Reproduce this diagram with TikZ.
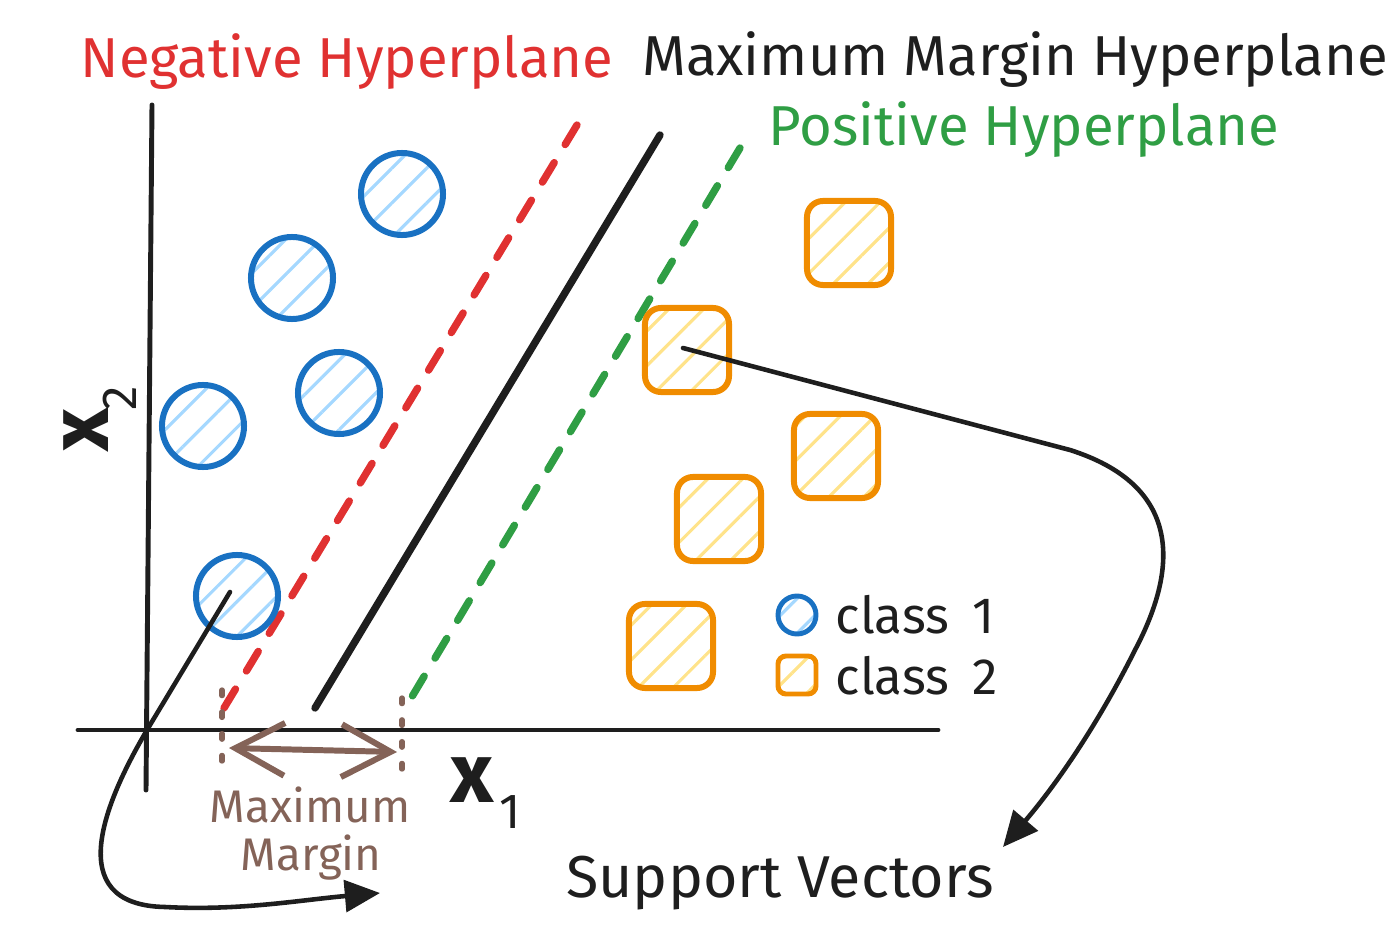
\documentclass[tikz,border=0pt]{standalone}
\usepackage{fontspec}
\setmainfont{Fira Sans}
\usetikzlibrary{arrows.meta,patterns.meta}
\definecolor{nred}{HTML}{E03131}
\definecolor{pgreen}{HTML}{2F9E44}
\definecolor{cblue}{HTML}{1971C2}
\definecolor{hblue}{HTML}{A5D8FF}
\definecolor{sorange}{HTML}{F08C00}
\definecolor{hyellow}{HTML}{FFE38A}
\definecolor{mbrown}{HTML}{846358}
\definecolor{ink}{HTML}{1E1E1E}
\begin{document}
\begin{tikzpicture}[x=0.01cm,y=-0.01cm,
  classone/.style={circle,draw=cblue,line width=1.7pt,minimum size=0.82cm,inner sep=0pt,
    pattern={Lines[angle=45,distance=7pt,line width=0.9pt]},pattern color=hblue},
  classtwo/.style={rectangle,rounded corners=0.16cm,draw=sorange,line width=1.7pt,minimum size=0.84cm,inner sep=0pt,
    pattern={Lines[angle=45,distance=7pt,line width=0.9pt]},pattern color=hyellow},
  legone/.style={classone,minimum size=0.38cm,line width=1.4pt},
  legtwo/.style={classtwo,minimum size=0.38cm,rounded corners=0.08cm,line width=1.4pt},
  bigtext/.style={font=\fontsize{16}{19}\selectfont,inner sep=0pt},
  midtext/.style={font=\fontsize{14.5}{18}\selectfont,inner sep=0pt},
  smalltext/.style={font=\fontsize{13}{15}\selectfont,inner sep=0pt,text=mbrown},
  axis/.style={draw=ink,line width=1.4pt,line cap=round},
  plane/.style={line width=2.1pt,line cap=round},
  planedash/.style={plane,dash pattern=on 6.5pt off 6pt},
  guide/.style={draw=mbrown,line width=1.5pt,line cap=round,dash pattern=on 1.6pt off 4.6pt},
  pointer/.style={draw=ink,line width=1.3pt,line cap=round,-{Triangle[length=10pt,width=9pt]}},
  span/.style={draw=mbrown,line width=1.7pt,line cap=round,{Straight Barb[length=14pt,width=15pt,line width=1.7pt]}-{Straight Barb[length=14pt,width=15pt,line width=1.7pt]}}
]
\useasboundingbox (0,0) rectangle (1400,943);

% titles
\node[bigtext,text=nred] (neg) at (347,62) {Negative Hyperplane};
\node[bigtext,text=ink] (mmh) at (1015,60) {Maximum Margin Hyperplane};
\node[bigtext,text=pgreen] (pos) at (1024,130) {Positive Hyperplane};

% axes
\coordinate (ytop) at (152,105);
\coordinate (ybot) at (146,790);
\coordinate (xl) at (78,730);
\coordinate (xr) at (938,730);
\draw[axis] (ytop) -- (ybot);
\draw[axis] (xl) -- (xr);
\node[font=\fontsize{24}{24}\selectfont\bfseries,text=ink,inner sep=0pt] (xone) at (472,780) {x};
\node[font=\fontsize{14}{14}\selectfont,text=ink,inner sep=0pt] (xonesub) at (510,812) {1};
\node[font=\fontsize{24}{24}\selectfont\bfseries,text=ink,inner sep=0pt,rotate=90] (xtwo) at (86,430) {x};
\node[font=\fontsize{14}{14}\selectfont,text=ink,inner sep=0pt,rotate=90] (xtwosub) at (120,398) {2};

% hyperplanes
\coordinate (nt) at (577,125);
\coordinate (nb) at (224,708);
\coordinate (mt) at (660,135);
\coordinate (mb) at (315,708);
\coordinate (pt) at (740,148);
\coordinate (pb) at (404,710);
\draw[planedash,draw=nred] (nt) -- (nb);
\draw[plane,draw=ink] (mt) -- (mb);
\draw[planedash,draw=pgreen] (pt) -- (pb);

% class 1 circles
\node[classone] (c1) at (402,194) {};
\node[classone] (c2) at (292,278) {};
\node[classone] (c3) at (339,393) {};
\node[classone] (c4) at (203,426) {};
\node[classone] (c5) at (237,596) {};

% class 2 squares
\node[classtwo] (s1) at (849,243) {};
\node[classtwo] (s2) at (687,350) {};
\node[classtwo] (s3) at (836,456) {};
\node[classtwo] (s4) at (719,519) {};
\node[classtwo] (s5) at (671,646) {};

% legend
\node[legone] (l1) at (797,615) {};
\node[legtwo] (l2) at (797,675) {};
\node[midtext,text=ink,anchor=west] (lt1) at (835,615) {class\hspace{0.45em}1};
\node[midtext,text=ink,anchor=west] (lt2) at (835,676) {class\hspace{0.45em}2};

% maximum margin
\coordinate (g1t) at (222,690);
\coordinate (g1b) at (222,776);
\coordinate (g2t) at (402,698);
\coordinate (g2b) at (402,778);
\draw[guide] (g1t) -- (g1b);
\draw[guide] (g2t) -- (g2b);
\coordinate (sl) at (229,748);
\coordinate (sr) at (397,752);
\draw[span] (sl) -- (sr);
\node[smalltext] (mx) at (310,805) {Maximum};
\node[smalltext] (mg) at (311,858) {Margin};

% support vectors
\node[font=\fontsize{16.8}{19}\selectfont,inner sep=0pt,text=ink] (sv) at (780,883) {Support Vectors};
\coordinate (a1s) at (683,348);
\coordinate (a1e) at (1003,847);
\draw[pointer] (a1s) -- (1070,450) .. controls (1180,485) and (1180,565) .. (1135,650) .. controls (1100,720) and (1060,780) .. (a1e);
\coordinate (a2s) at (230,592);
\coordinate (a2e) at (380,893);
\draw[pointer] (a2s) -- (150,725) .. controls (105,800) and (60,905) .. (165,907) .. controls (240,911) and (300,900) .. (a2e);
\end{tikzpicture}
\end{document}
